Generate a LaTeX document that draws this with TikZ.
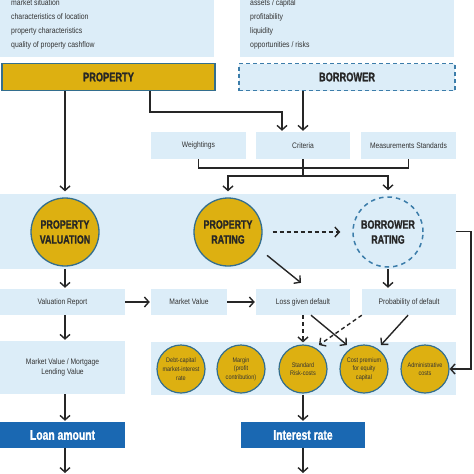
\documentclass[tikz,border=0pt]{standalone}
\usepackage{fontspec}
\setmainfont{Liberation Sans}[FakeStretch=0.84]
\newfontfamily\hb{Liberation Sans}[FakeStretch=0.74,FakeBold=1.2]
\usetikzlibrary{arrows.meta}
\definecolor{lb}{HTML}{DCEDF8}
\definecolor{gold}{HTML}{DDB011}
\definecolor{cb}{HTML}{336E8E}
\definecolor{db}{HTML}{1A68B2}
\definecolor{bd}{HTML}{3C7DAA}
\definecolor{ink}{HTML}{262626}
\definecolor{txt}{HTML}{333333}
\begin{document}
\begin{tikzpicture}[x=1pt,y=-1pt,
  lbox/.style={fill=lb, inner sep=0, text=txt, align=center, font=\fontsize{8}{10}\selectfont},
  tl/.style={inner sep=0, text=txt, font=\fontsize{8.2}{10}\selectfont},
  hbox/.style={inner sep=0, line width=1.4pt, text=ink, font=\hb\bfseries\fontsize{12.5}{14}\selectfont},
  darkbox/.style={fill=db, inner sep=0, text=white, font=\hb\bfseries\fontsize{14}{16}\selectfont, minimum height=26pt},
  bigc/.style={circle, fill=gold, draw=cb, line width=1.3pt, minimum size=68pt, inner sep=0, align=center, text=ink, font=\hb\bfseries\fontsize{12}{15}\selectfont},
  smc/.style={circle, fill=gold, draw=cb, line width=1.2pt, minimum size=48pt, inner sep=0, align=center, text=txt, font=\fontsize{6.6}{8.7}\selectfont},
  ln/.style={draw=ink, line width=1.4pt},
  arr/.style={ln, -{Straight Barb[length=4.5pt,width=10pt]}},
  dsh/.style={dash pattern=on 4pt off 3pt}
]
\useasboundingbox (0,0) rectangle (474,474);
% top boxes
\node[fill=lb, inner sep=0, minimum width=214pt, minimum height=67pt] (topl) at (107,23.5) {};
\node[fill=lb, inner sep=0, minimum width=214pt, minimum height=67pt] (topr) at (347,23.5) {};
\node[tl, anchor=base west] (tl1) at (11,5) {market situation};
\node[tl, anchor=base west] (tl2) at (11,19) {characteristics of location};
\node[tl, anchor=base west] (tl3) at (11,33) {property characteristics};
\node[tl, anchor=base west] (tl4) at (11,47) {quality of property cashflow};
\node[tl, anchor=base west] (tr1) at (250,5) {assets / capital};
\node[tl, anchor=base west] (tr2) at (250,19) {profitability};
\node[tl, anchor=base west] (tr3) at (250,33) {liquidity};
\node[tl, anchor=base west] (tr4) at (250,47) {opportunities / risks};
% property / borrower
\node[hbox, fill=gold, draw=cb, minimum width=213pt, minimum height=27pt] (prop) at (108.5,77) {PROPERTY};
\node[hbox, fill=lb, draw=bd, dsh, minimum width=216pt, minimum height=27pt] (borr) at (347,77) {BORROWER};
% criteria row
\node[lbox, minimum width=95pt, minimum height=27pt] (weight) at (198.5,145.5) {Weightings};
\node[lbox, minimum width=94pt, minimum height=27pt] (crit) at (303,145.5) {Criteria};
\node[lbox, minimum width=95pt, minimum height=27pt] (meas) at (408.5,145.5) {Measurements Standards};
% band with circles
\node[fill=lb, inner sep=0, minimum width=456pt, minimum height=75pt] (band) at (228,231.5) {};
\node[bigc] (pval) at (65,232) {PROPERTY\\VALUATION};
\node[bigc] (prat) at (228,232) {PROPERTY\\RATING};
\node[bigc, fill=lb, draw=bd, line width=1.5pt, dash pattern=on 4.5pt off 4pt, minimum size=70pt] (brat) at (388,232) {BORROWER\\RATING};
% second row
\node[lbox, minimum width=125pt, minimum height=26pt] (valrep) at (62.5,302) {Valuation Report};
\node[lbox, minimum width=76pt, minimum height=26pt] (mktval) at (189,302) {Market Value};
\node[lbox, minimum width=94pt, minimum height=26pt] (lgd) at (303,302) {Loss given default};
\node[lbox, minimum width=94pt, minimum height=26pt] (pd) at (409,302) {Probability of default};
% third row
\node[lbox, minimum width=125pt, minimum height=53pt] (mvmlv) at (62.5,367.5) {Market Value / Mortgage\\[-0.5pt]Lending Value};
\node[fill=lb, inner sep=0, minimum width=305pt, minimum height=53pt] (band2) at (303.5,368) {};
\node[smc] (c1) at (181,369) {Debt-capital\\market-interest\\rate};
\node[smc] (c2) at (241,369) {Margin\\(profit\\contribution)};
\node[smc] (c3) at (303,369) {Standard\\Risk-costs};
\node[smc] (c4) at (364,369) {Cost premium\\for equity\\capital};
\node[smc] (c5) at (425,369) {Administrative\\costs};
% bottom boxes
\node[darkbox, minimum width=125pt] (loan) at (62.5,435) {Loan amount};
\node[darkbox, minimum width=124pt] (irate) at (303,435) {Interest rate};
\coordinate (e1) at (65,473);
\coordinate (e2) at (303,473);
% connectors
\draw[arr, shorten >=6pt] (prop.south -| pval.north) -- (pval.north);
\draw[arr, shorten >=1pt] (prop.south -| 150,0) -- (150,112) -| ([xshift=-21pt]crit.north);
\draw[arr, shorten >=1pt] (borr.south -| crit.north) -- (crit.north);
\draw[ln] (weight.south) |- (meas.south |- 0,168) -- (meas.south);
\draw[ln] (crit.south) -- (crit.south |- 0,176);
\draw[arr, shorten >=6pt] (crit.south |- 0,176) -| (prat.north);
\draw[arr, shorten >=6pt] (crit.south |- 0,176) -| (brat.north);
\draw[arr, dsh, shorten <=10pt, shorten >=12pt] (prat) -- (brat);
\draw[arr] (band.east) -- (471,231.5) |- (c5.east);
\draw[arr, shorten >=1pt] (pval.south |- band.south) -- (pval.south |- valrep.north);
\draw[arr, shorten >=1pt] (valrep.east) -- (mktval.west);
\draw[arr, shorten >=1pt] (mktval.east) -- (lgd.west);
\draw[arr] ([xshift=9pt,yshift=-6pt]prat.-30) -- ([xshift=-2pt,yshift=6pt]lgd.north);
\draw[arr, shorten >=1pt] (brat.south |- band.south) -- (brat.south |- pd.north);
\draw[arr, shorten >=1pt] (pval.south |- valrep.south) -- (pval.south |- mvmlv.north);
\draw[arr, shorten >=1pt] (pval.south |- mvmlv.south) -- (pval.south |- loan.north);
\draw[arr] (pval.south |- loan.south) -- (e1);
\draw[arr, dsh, shorten >=2pt] (lgd.south) -- (c3.north);
\draw[arr] ([xshift=8pt]lgd.south) -- ([xshift=-17pt,yshift=24pt]c4.center);
\draw[arr, dsh] (pd.south west) -- ([xshift=16pt,yshift=24pt]c3.center);
\draw[arr] ([xshift=-1pt]pd.south) -- ([xshift=17pt,yshift=24pt]c4.center);
\draw[arr, shorten >=1pt] (c3.south |- band2.south) -- (c3.south |- irate.north);
\draw[arr] (irate.south) -- (e2);
\end{tikzpicture}
\end{document}
